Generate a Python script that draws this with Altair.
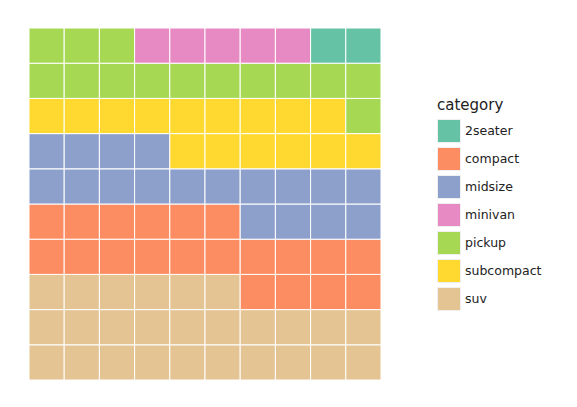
import altair as alt
import pandas as pd

# waffle: 100 cells, filled left-to-right, bottom-up, largest class first
categories = ["suv", "compact", "midsize", "subcompact", "pickup", "minivan", "2seater"]
cells = [26, 20, 18, 15, 14, 5, 2]

legend_order = ["2seater", "compact", "midsize", "minivan", "pickup", "subcompact", "suv"]
palette = ["#66c2a5", "#fc8d62", "#8da0cb", "#e78ac3", "#a6d854", "#ffd92f", "#e5c494"]

labels = [c for c, n in zip(categories, cells) for _ in range(n)]
df = pd.DataFrame({
    "category": labels,
    "col": [i % 10 for i in range(len(labels))],
    "row": [i // 10 for i in range(len(labels))],
})

chart = (
    alt.Chart(df)
    .mark_rect(stroke="white", strokeWidth=1)
    .encode(
        x=alt.X("col:O", axis=None, scale=alt.Scale(paddingInner=0, paddingOuter=0)),
        y=alt.Y("row:O", axis=None, sort="descending", scale=alt.Scale(paddingInner=0, paddingOuter=0)),
        color=alt.Color(
            "category:N",
            title="category",
            scale=alt.Scale(domain=legend_order, range=palette),
            legend=alt.Legend(
                orient="none",
                legendX=408,
                legendY=70,
                symbolType="square",
                symbolSize=529,
                symbolOpacity=1,
                symbolStrokeColor="#f0f0f0",
                symbolStrokeWidth=1,
                rowPadding=0,
                labelOffset=4,
                labelFontSize=12.5,
                labelFont="DejaVu Sans",
                labelColor="#222222",
                titleFontSize=15,
                titleFont="DejaVu Sans",
                titleFontWeight="normal",
                titleColor="#222222",
                titlePadding=6,
            ),
        ),
    )
    .properties(width=352, height=352, padding={"left": 20, "top": 19, "right": 5, "bottom": 5})
    .configure_view(stroke=None)
)

chart.save("out.html", embed_options={"renderer": "svg", "actions": False})
